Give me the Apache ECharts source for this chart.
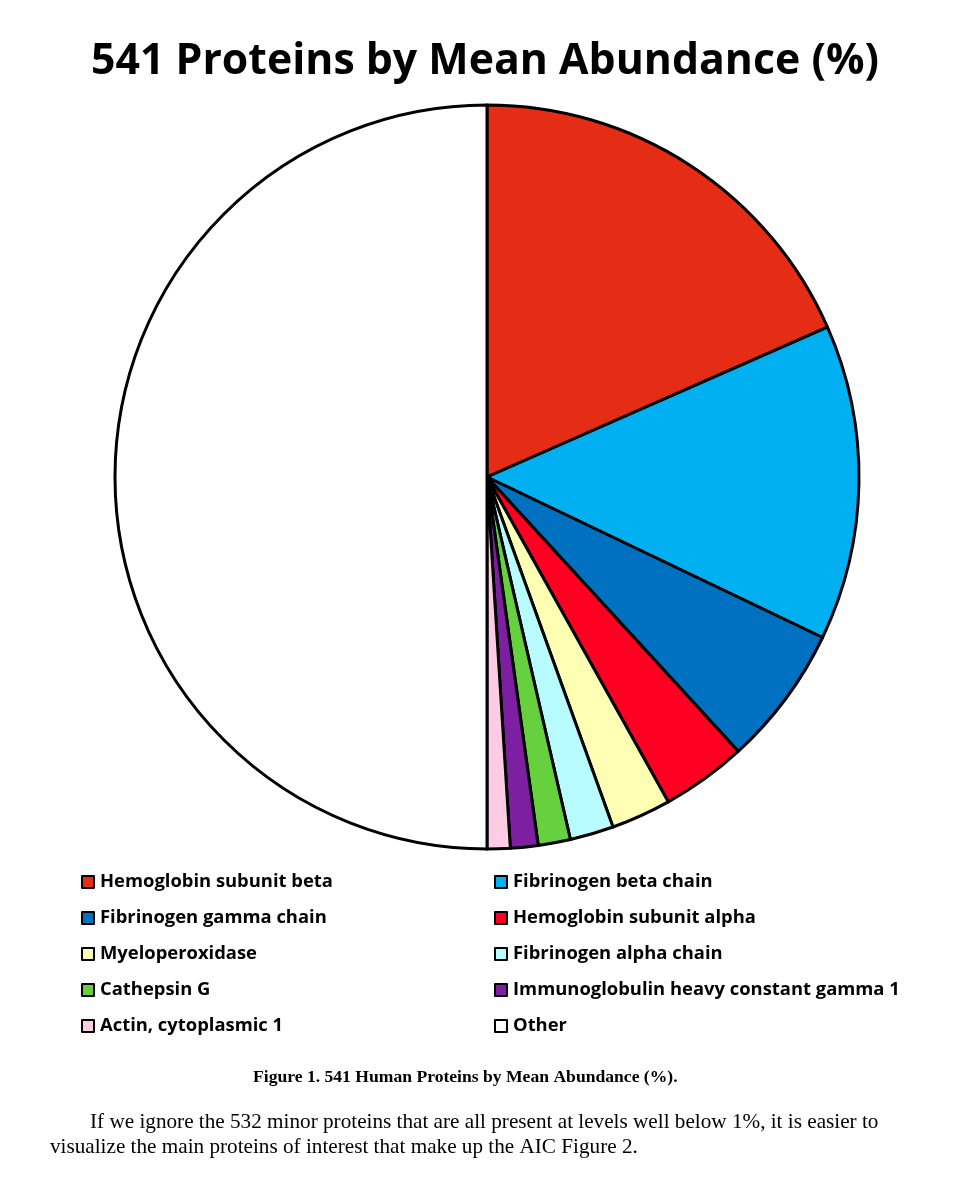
<!DOCTYPE html>
<html>
<head>
<meta charset="utf-8">
<script src="https://cdn.jsdelivr.net/npm/echarts@6/dist/echarts.min.js"></script>
<style>
html, body { margin: 0; padding: 0; background: #fff; }
#main { width: 960px; height: 1184px; }
</style>
</head>
<body>
<div id="main"></div>
<script>
// proteins, clockwise from 12 o'clock
const proteins = [
    'Hemoglobin subunit beta',
    'Fibrinogen beta chain',
    'Fibrinogen gamma chain',
    'Hemoglobin subunit alpha',
    'Myeloperoxidase',
    'Fibrinogen alpha chain',
    'Cathepsin G',
    'Immunoglobulin heavy constant gamma 1',
    'Actin, cytoplasmic 1',
    'Other'
];
const abundance = [18.4, 13.7, 6.1, 3.7, 2.6, 1.9, 1.4, 1.2, 1.0, 50.0];
const colors = ['#E52D15', '#00B0F0', '#0070C0', '#FF0022', '#FFFFB4',
                '#B8FCFF', '#66D03F', '#7C1FA0', '#FFCCE4', '#FFFFFF'];

// legend is laid out in two columns
const legendLeft = [proteins[0], proteins[2], proteins[4], proteins[6], proteins[8]];
const legendRight = [proteins[1], proteins[3], proteins[5], proteins[7], proteins[9]];

const chart = echarts.init(document.getElementById('main'));

const legendBase = {
    orient: 'vertical',
    top: 873,
    padding: 0,
    icon: 'rect',
    itemWidth: 12,
    itemHeight: 12,
    itemGap: 18,
    itemStyle: { borderColor: '#000', borderWidth: 2 },
    textStyle: {
        fontFamily: 'Open Sans',
        fontWeight: 'bold',
        fontSize: 18.4,
        color: '#000',
        padding: [0, 0, 0, 1]
    }
};

chart.setOption({
    backgroundColor: '#fff',
    animation: false,
    title: {
        text: '541 Proteins by Mean Abundance (%)',
        left: 91,
        top: 40,
        padding: 0,
        textStyle: {
            fontFamily: 'Open Sans',
            fontWeight: 'bold',
            fontSize: 42.8,
            color: '#000'
        }
    },
    legend: [
        Object.assign({}, legendBase, { left: 81, data: legendLeft }),
        Object.assign({}, legendBase, { left: 494, data: legendRight })
    ],
    series: [{
        type: 'pie',
        center: [487, 477],
        radius: 372,
        startAngle: 90,
        clockwise: true,
        label: { show: false },
        labelLine: { show: false },
        itemStyle: { borderColor: '#000', borderWidth: 3 },
        data: proteins.map((name, i) => ({
            name: name,
            value: abundance[i],
            itemStyle: { color: colors[i] }
        }))
    }],
    graphic: [
        {
            type: 'text',
            left: 253,
            top: 1068,
            style: {
                text: 'Figure 1. 541 Human Proteins by Mean Abundance (%).',
                font: 'bold 17.6px "Liberation Serif"',
                fill: '#000'
            }
        },
        {
            type: 'text',
            left: 90,
            top: 1112,
            style: {
                text: 'If we ignore the 532 minor proteins that are all present at levels well below 1%, it is easier to',
                font: '21.2px "Liberation Serif"',
                fill: '#000'
            }
        },
        {
            type: 'text',
            left: 50,
            top: 1137,
            style: {
                text: 'visualize the main proteins of interest that make up the AIC Figure 2.',
                font: '21.2px "Liberation Serif"',
                fill: '#000'
            }
        }
    ]
});
</script>
</body>
</html>
